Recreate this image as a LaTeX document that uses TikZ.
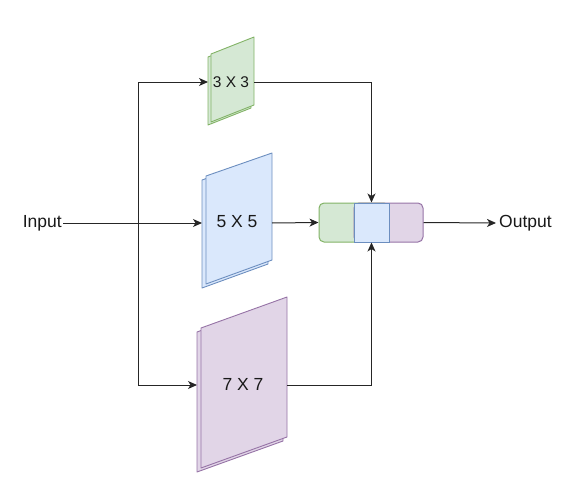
\documentclass[tikz,border=0pt]{standalone}
\usepackage{fontspec}
\setmainfont{Liberation Sans}
\usetikzlibrary{arrows.meta}
\definecolor{gfill}{HTML}{D5E8D4}
\definecolor{gline}{HTML}{82B366}
\definecolor{bfill}{HTML}{DAE8FC}
\definecolor{bline}{HTML}{6C8EBF}
\definecolor{pfill}{HTML}{E1D5E7}
\definecolor{pline}{HTML}{9673A6}

\begin{document}
\begin{tikzpicture}[x=1pt,y=-1pt,
	wire/.style={line width=1pt, draw=black!85},
	arr/.style={wire, -{Stealth[length=9pt,width=8pt,inset=2.5pt]}},
	lab/.style={inner sep=1pt, text=black!90, font=\fontsize{17.5}{19}\selectfont},
	gsheet/.style={draw=gline, fill=gfill, line width=0.9pt, line join=round},
	bsheet/.style={draw=bline, fill=bfill, line width=0.9pt, line join=round},
	psheet/.style={draw=pline, fill=pfill, line width=0.9pt, line join=round},
	cell/.style={minimum height=39pt, inner sep=0pt, line width=1pt}]
	\useasboundingbox (0,0) rectangle (571,498);
	%%%%% KERNELS %%%%%
	\foreach \o in {3,0}
		\draw[gsheet] (211-\o,54+\o) -- (254-\o,37+\o) -- (254-\o,105+\o) -- (211-\o,122+\o) -- cycle;
	\node[lab, font=\fontsize{15.5}{17}\selectfont] (k3) at (231,82) {3 X 3};
	\coordinate (k3in) at (208,82);
	\coordinate (k3out) at (254,82);
	
	\foreach \o in {4,0}
		\draw[bsheet] (206-\o,176+\o) -- (272-\o,153+\o) -- (272-\o,260+\o) -- (206-\o,284+\o) -- cycle;
	\node[lab] (k5) at (237,222) {5 X 5};
	\coordinate (k5in) at (202,223);
	\coordinate (k5out) at (272,223);
	
	\foreach \o in {4,0}
		\draw[psheet] (201-\o,328+\o) -- (287-\o,297+\o) -- (287-\o,437+\o) -- (201-\o,468+\o) -- cycle;
	\node[lab] (k7) at (243,384) {7 X 7};
	\coordinate (k7in) at (197,385);
	\coordinate (k7out) at (287,385);
	
	%%%%% CONCAT %%%%%
	\node[cell, draw=gline, fill=gfill, minimum width=70pt, rounded corners=5pt] (c1) at (354,222.5) {};
	\node[cell, draw=pline, fill=pfill, minimum width=69pt, rounded corners=5pt] (c3) at (388.5,222.5) {};
	\node[cell, draw=bline, fill=bfill, minimum width=35pt] (c2) at (371.5,222.5) {};
	
	%%%%% WIRES %%%%%
	\node[lab, anchor=east] (in) at (63,223) {Input};
	\node[lab, anchor=west] (out) at (498,223) {Output};
	\coordinate (split) at (138,223);
	
	\draw[arr] (in) -- (k5in);
	\draw[wire] (split |- k3in) -- (split |- k7in);
	\draw[arr] (split |- k3in) -- (k3in);
	\draw[arr] (split |- k7in) -- (k7in);
	\draw[arr] (k3out) -| (c2.north);
	\draw[arr] (k5out) -- (c1.west);
	\draw[arr] (k7out) -| (c2.south);
	\draw[arr] (c3.east) -- ([xshift=-2pt]out.west);
\end{tikzpicture}
\end{document}
